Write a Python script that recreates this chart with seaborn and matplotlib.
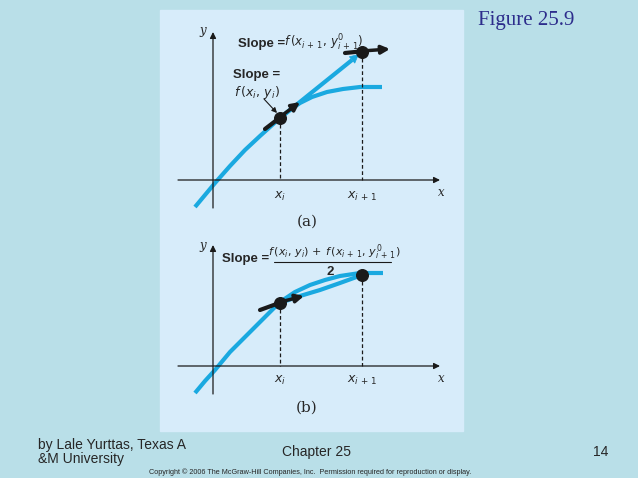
import matplotlib
matplotlib.use("Agg")
import matplotlib.pyplot as plt
import seaborn as sns

sns.set_theme(style="white")
plt.rcParams['font.family'] = ['DejaVu Sans']

# curve points (figure pixel coordinates)
curve_a_x = [195, 205, 215, 230, 245, 260, 280, 290, 300, 312, 327, 343, 360, 382]
curve_a_y = [207, 195, 183, 166, 150, 136, 118, 110, 103, 97, 92, 89, 87, 87]
line_a_x = [280, 352]
line_a_y = [118, 60]
curve_b_x = [195, 205, 215, 230, 245, 260, 280, 295, 310, 325, 340, 360, 383]
curve_b_y = [393, 381, 370, 352, 337, 322, 302, 292, 285, 280, 276, 273, 273]
chord_b_x = [280, 300, 320, 340, 362]
chord_b_y = [303, 296, 290, 283, 275]

BLUE = "#1aa9e0"
fig = plt.figure(figsize=(6.38, 4.78), dpi=100)
fig.patch.set_facecolor("#b9dfe8")
ax = fig.add_axes([0, 0, 1, 1])
ax.set_xlim(0, 638); ax.set_ylim(478, 0); ax.axis("off")
ax.add_patch(plt.Rectangle((160, 10), 303, 421, color="#d7ecfa", zorder=0))

def blue(x, y):
    sns.lineplot(x=x, y=y, sort=False, ax=ax, color=BLUE, lw=3.0, zorder=2,
                 solid_capstyle="butt")

def arrow(x0, y0, x1, y1, lw=1.0, col="k", hw=4):
    ax.annotate("", xy=(x1, y1), xytext=(x0, y0),
                arrowprops=dict(arrowstyle=f"-|>,head_width={hw/20},head_length={hw/10}",
                                color=col, lw=lw, shrinkA=0, shrinkB=0), zorder=4)

serif = dict(family="DejaVu Serif", style="italic", fontsize=8.5)
sans_b = dict(family="Liberation Sans", weight="bold", fontsize=9.5)
panels = [("(a)", 180, 32, 30, 193, 196, 222), ("(b)", 366, 245, 245, 378, 380, 408)]
for lab, xy, ytop, ylab, xlab, xil, plab in panels:
    arrow(178, xy, 440, xy, lw=0.9, hw=3)
    arrow(213, xy + 28, 213, ytop, lw=0.9, hw=3)
    ax.text(203, ylab, "y", ha="center", va="center", **serif)
    ax.text(441, xlab, "x", ha="center", va="center", **serif)
    ax.text(280, xil, "$x_i$", ha="center", va="center", fontsize=9, family="DejaVu Serif")
    ax.text(362, xil, "$x_{i\\,+\\,1}$", ha="center", va="center", fontsize=9, family="DejaVu Serif")
    ax.text(307, plab, lab, ha="center", va="center", fontsize=11, family="DejaVu Serif")

# panel a
blue(curve_a_x, curve_a_y)
blue(line_a_x, line_a_y)
arrow(345, 66, 359, 54, lw=0.5, col=BLUE, hw=5)
ax.plot([280, 280], [118, 180], "k--", lw=0.9, dashes=(3, 2), zorder=3)
ax.plot([362, 362], [52, 180], "k--", lw=0.9, dashes=(3, 2), zorder=3)
ax.plot([265, 282], [129, 116], "k-", lw=3, zorder=4)
arrow(280, 117, 300, 102, lw=2.5, hw=4)
ax.plot([345, 365], [53, 51], "k-", lw=3, zorder=4)
arrow(362, 51, 390, 49, lw=2.5, hw=4)
ax.scatter([280, 362], [118, 52], s=70, color="k", zorder=5)
ax.text(238, 44, "Slope =", va="center", **sans_b)
ax.text(284, 43, "$f\\,(x_{i\\,+\\,1},\\,y^{0}_{i\\,+\\,1})$", fontsize=8.5, va="center", family="DejaVu Serif")
ax.text(233, 75, "Slope =", va="center", **sans_b)
ax.text(234, 92, "$f\\,(x_i,\\,y_i)$", fontsize=9, va="center", family="DejaVu Serif")
arrow(264, 99, 277, 113, lw=0.8, hw=2.5)

# panel b
blue(curve_b_x, curve_b_y)
blue(chord_b_x, chord_b_y)
ax.plot([280, 280], [303, 366], "k--", lw=0.9, dashes=(3, 2), zorder=3)
ax.plot([362, 362], [275, 366], "k--", lw=0.9, dashes=(3, 2), zorder=3)
ax.plot([260, 282], [310, 302], "k-", lw=3, zorder=4)
arrow(280, 302, 304, 296, lw=2.5, hw=4)
ax.scatter([280, 362], [303, 275], s=70, color="k", zorder=5)
ax.text(222, 259, "Slope =", va="center", **sans_b)
ax.text(334, 252, "$f\\,(x_i,\\,y_i)\\,+\\,f\\,(x_{i\\,+\\,1},\\,y^{0}_{i\\,+\\,1})$", fontsize=8,
        ha="center", va="center", family="DejaVu Serif")
ax.plot([274, 391], [262, 262], "k-", lw=0.8)
ax.text(330, 272, "2", ha="center", va="center", **sans_b)

# slide text
ax.text(526, 20, "Figure 25.9", fontsize=15, ha="center", va="center", color="#2d2d8c", family="Liberation Serif")
ax.text(38, 452, "by Lale Yurttas, Texas A\n&M University", fontsize=10, va="center", linespacing=0.95, family="Liberation Sans")
ax.text(316, 452, "Chapter 25", fontsize=10, ha="center", va="center", family="Liberation Sans")
ax.text(601, 452, "14", fontsize=10, ha="center", va="center", family="Liberation Sans")
ax.text(310, 472, "Copyright © 2006 The McGraw-Hill Companies, Inc.  Permission required for reproduction or display.",
        fontsize=5.2, ha="center", va="center", family="Liberation Sans")

fig.savefig("out.png", dpi=100, facecolor=fig.get_facecolor())
